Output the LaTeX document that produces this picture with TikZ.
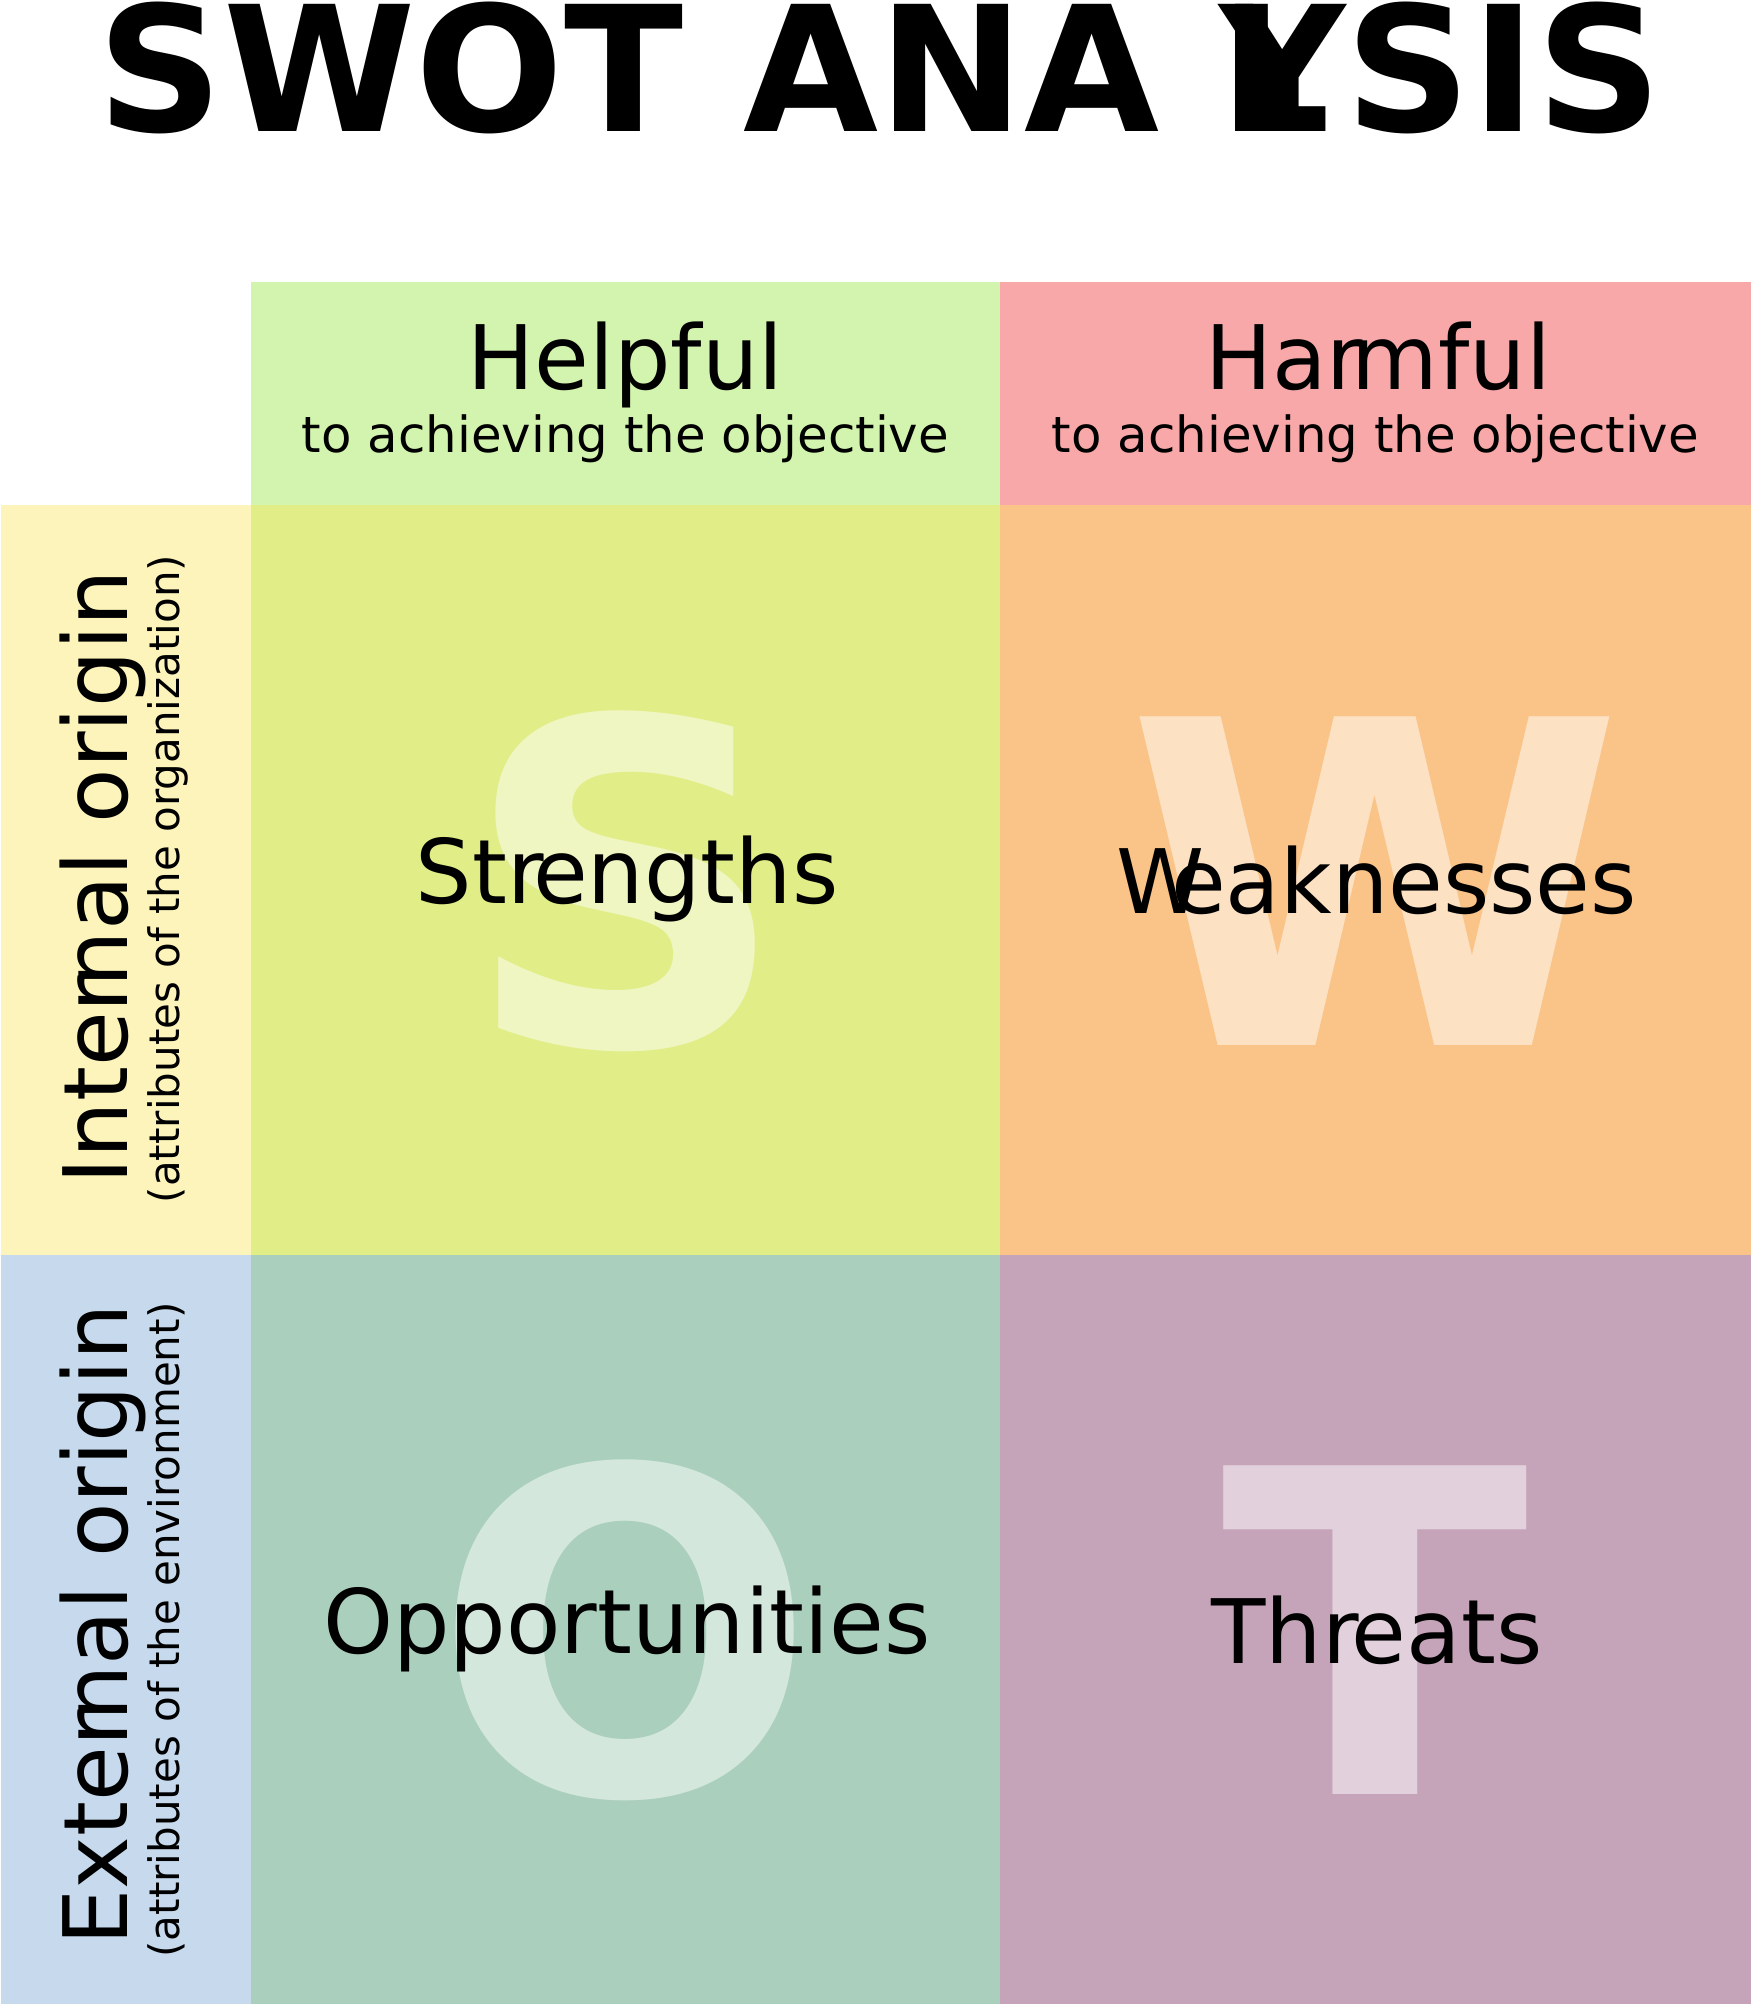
\documentclass[tikz,border=0pt]{standalone}
\usepackage{fontspec}
\setmainfont{DejaVu Sans}
\definecolor{helpC}{RGB}{211,244,174}
\definecolor{harmC}{RGB}{248,168,168}
\definecolor{intC}{RGB}{252,244,187}
\definecolor{extC}{RGB}{198,217,237}
\definecolor{sC}{RGB}{225,237,134}
\definecolor{wC}{RGB}{250,195,136}
\definecolor{oC}{RGB}{170,207,188}
\definecolor{tC}{RGB}{197,164,185}
\tikzset{
  lab/.style={font=\fontsize{89}{89}\selectfont, anchor=base, inner sep=0pt},
  sublab/.style={font=\fontsize{49.8}{49.8}\selectfont, anchor=base, inner sep=0pt},
  sidelab/.style={font=\fontsize{89}{89}\selectfont, anchor=base, rotate=90, inner sep=0pt},
  sidesub/.style={font=\fontsize{42}{42}\selectfont, anchor=base, rotate=90, inner sep=0pt},
  bigletter/.style={font=\fontsize{451}{451}\selectfont\bfseries, text=white, text opacity=0.5, anchor=base, inner sep=0pt},
  titlestyle/.style={font=\fontsize{174.5}{174.5}\selectfont\bfseries, anchor=base west, inner sep=0pt},
}
\begin{document}
\begin{tikzpicture}[x=1pt,y=-1pt]
\useasboundingbox (0,0) rectangle (1751,2006);
\fill[white] (0,0) rectangle (1751,2006);
% header cells
\fill[helpC] (251,282) rectangle (1000,505);
\fill[harmC] (1000,282) rectangle (1751,505);
% side cells
\fill[intC] (1,505) rectangle (251,1255);
\fill[extC] (1,1255) rectangle (251,2004);
% quadrants
\fill[sC] (251,505) rectangle (1000,1255);
\fill[wC] (1000,505) rectangle (1751,1255);
\fill[oC] (251,1255) rectangle (1000,2004);
\fill[tC] (1000,1255) rectangle (1751,2004);
% big letters
\node[bigletter] (bigS) at (625.5,1045) {S};
\node[bigletter] (bigW) at (1375.5,1045) {W};
\node[bigletter] (bigO) at (625.5,1794) {O};
\node[bigletter] (bigT) at (1375.5,1794) {T};
% title
\node[titlestyle] (title) at (97.5,131) {SWOT ANA\hspace{59pt}\rlap{L}YSIS};
% headers
\node[lab] (helpful) at (625.5,389) {Helpful};
\node[sublab] (helpsub) at (625.5,452) {to achieving the objective};
\node[lab] (harmful) at (1378,389) {Har\kern-0.13em mful};
\node[sublab] (harmsub) at (1375.5,452) {to achieving the objective};
% side labels
\node[sidelab] (internal) at (127,877) {Inter\kern-0.13em nal origin};
\node[sidesub] (intsub) at (179,879) {(attributes of the organization)};
\node[sidelab] (external) at (127,1625) {Exter\kern-0.13em nal origin};
\node[sidesub] (extsub) at (179,1630) {(attributes of the environment)};
% quadrant labels
\node[lab] (strengths) at (627,903) {Str\kern-0.12em engths};
\node[lab] (weaknesses) at (1377,913) {W\kern-0.38em eaknesses};
\node[lab] (opportunities) at (627,1653) {Opportunities};
\node[lab] (threats) at (1377,1663) {Thr\kern-0.08em eats};
\end{tikzpicture}
\end{document}
